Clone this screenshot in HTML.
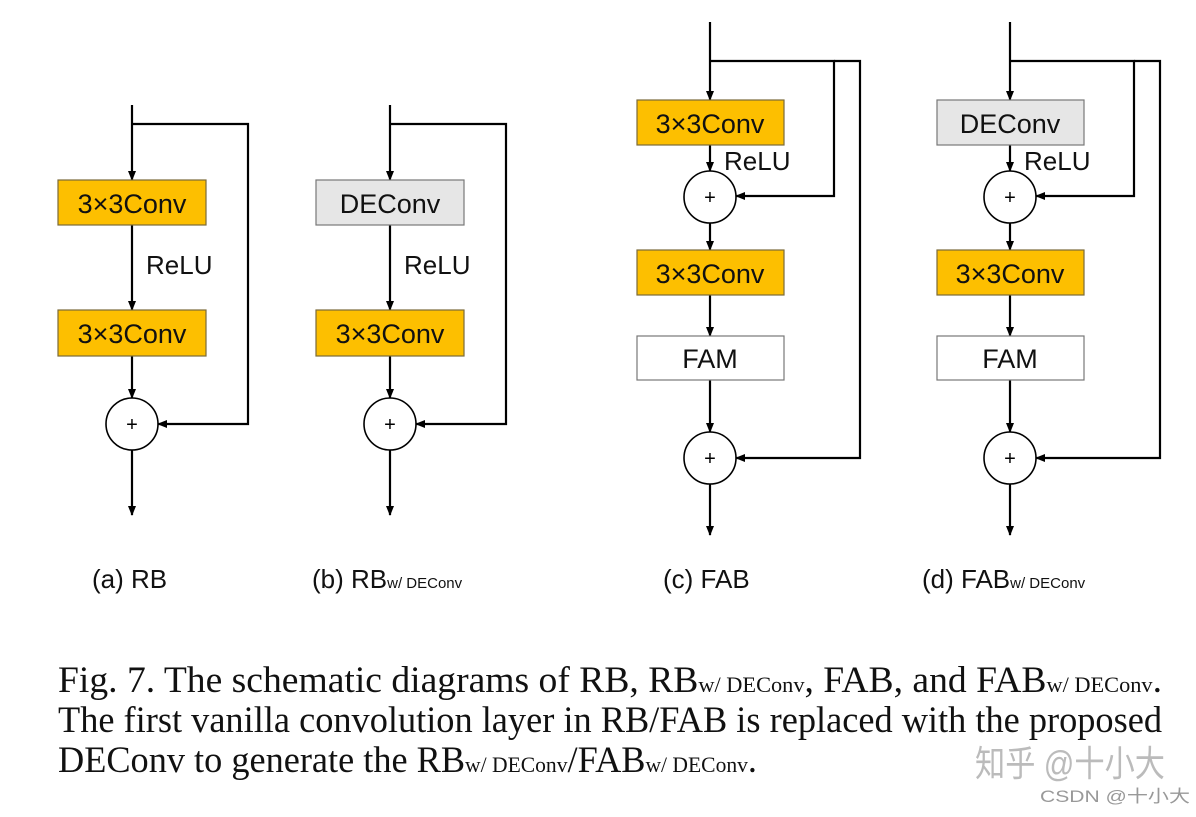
<!DOCTYPE html>
<html><head><meta charset="utf-8"><style>
body{margin:0;background:#fff;width:1196px;height:812px;overflow:hidden}
svg text{font-family:"Liberation Sans",sans-serif}
.cap{font-family:"Liberation Serif",serif;font-size:37px;fill:#111}
</style></head><body>
<svg width="1196" height="812" viewBox="0 0 1196 812" xmlns="http://www.w3.org/2000/svg">
<defs><marker id="a" viewBox="0 0 10 10" refX="9" refY="5" markerWidth="10" markerHeight="10" markerUnits="userSpaceOnUse" orient="auto"><path d="M0,1 L10,5 L0,9 z" fill="#000"/></marker></defs>
<g stroke="#000" stroke-width="2.2" fill="none">
<line x1="132" y1="105" x2="132" y2="180" marker-end="url(#a)"/>
<line x1="132" y1="225" x2="132" y2="310" marker-end="url(#a)"/>
<line x1="132" y1="356" x2="132" y2="398" marker-end="url(#a)"/>
<line x1="132" y1="450" x2="132" y2="515" marker-end="url(#a)"/>
<polyline points="132,124 248,124 248,424 158,424" marker-end="url(#a)"/>
<line x1="390" y1="105" x2="390" y2="180" marker-end="url(#a)"/>
<line x1="390" y1="225" x2="390" y2="310" marker-end="url(#a)"/>
<line x1="390" y1="356" x2="390" y2="398" marker-end="url(#a)"/>
<line x1="390" y1="450" x2="390" y2="515" marker-end="url(#a)"/>
<polyline points="390,124 506,124 506,424 416,424" marker-end="url(#a)"/>
<line x1="710" y1="22" x2="710" y2="100" marker-end="url(#a)"/>
<line x1="710" y1="145" x2="710" y2="171" marker-end="url(#a)"/>
<line x1="710" y1="223" x2="710" y2="250" marker-end="url(#a)"/>
<line x1="710" y1="295" x2="710" y2="336" marker-end="url(#a)"/>
<line x1="710" y1="380" x2="710" y2="432" marker-end="url(#a)"/>
<line x1="710" y1="484" x2="710" y2="535" marker-end="url(#a)"/>
<polyline points="710,61 834,61 834,196 736,196" marker-end="url(#a)"/>
<polyline points="834,61 860,61 860,458 736,458" marker-end="url(#a)"/>
<line x1="1010" y1="22" x2="1010" y2="100" marker-end="url(#a)"/>
<line x1="1010" y1="145" x2="1010" y2="171" marker-end="url(#a)"/>
<line x1="1010" y1="223" x2="1010" y2="250" marker-end="url(#a)"/>
<line x1="1010" y1="295" x2="1010" y2="336" marker-end="url(#a)"/>
<line x1="1010" y1="380" x2="1010" y2="432" marker-end="url(#a)"/>
<line x1="1010" y1="484" x2="1010" y2="535" marker-end="url(#a)"/>
<polyline points="1010,61 1134,61 1134,196 1036,196" marker-end="url(#a)"/>
<polyline points="1134,61 1160,61 1160,458 1036,458" marker-end="url(#a)"/>
</g>
<g stroke="#7a6a3a" stroke-width="1.2">
<rect x="58" y="180" width="148" height="45" fill="#fdbf00"/>
<rect x="58" y="310" width="148" height="46" fill="#fdbf00"/>
<rect x="316" y="180" width="148" height="45" fill="#e6e6e6" stroke="#777"/>
<rect x="316" y="310" width="148" height="46" fill="#fdbf00"/>
<rect x="637" y="100" width="147" height="45" fill="#fdbf00"/>
<rect x="637" y="250" width="147" height="45" fill="#fdbf00"/>
<rect x="637" y="336" width="147" height="44" fill="#fff" stroke="#777"/>
<rect x="937" y="100" width="147" height="45" fill="#e6e6e6" stroke="#777"/>
<rect x="937" y="250" width="147" height="45" fill="#fdbf00"/>
<rect x="937" y="336" width="147" height="44" fill="#fff" stroke="#777"/>
</g>
<g fill="#fff" stroke="#000" stroke-width="1.6">
<circle cx="132" cy="424" r="26"/><circle cx="390" cy="424" r="26"/>
<circle cx="710" cy="197" r="26"/><circle cx="710" cy="458" r="26"/>
<circle cx="1010" cy="197" r="26"/><circle cx="1010" cy="458" r="26"/>
</g>
<g font-size="20" text-anchor="middle" fill="#000">
<text x="132" y="431">+</text><text x="390" y="431">+</text>
<text x="710" y="204">+</text><text x="710" y="465">+</text>
<text x="1010" y="204">+</text><text x="1010" y="465">+</text>
</g>
<g font-size="27" text-anchor="middle" fill="#111">
<text x="132" y="213">3×3Conv</text><text x="132" y="343">3×3Conv</text>
<text x="390" y="213">DEConv</text><text x="390" y="343">3×3Conv</text>
<text x="710" y="133">3×3Conv</text><text x="710" y="283">3×3Conv</text><text x="710" y="368">FAM</text>
<text x="1010" y="133">DEConv</text><text x="1010" y="283">3×3Conv</text><text x="1010" y="368">FAM</text>
</g>
<g font-size="26" fill="#111">
<text x="146" y="274">ReLU</text><text x="404" y="274">ReLU</text>
<text x="724" y="170">ReLU</text><text x="1024" y="170">ReLU</text>
<text x="92" y="588">(a) RB</text>
<text x="312" y="588">(b) RB<tspan font-size="15">w/ DEConv</tspan></text>
<text x="663" y="588">(c) FAB</text>
<text x="922" y="588">(d) FAB<tspan font-size="15">w/ DEConv</tspan></text>
</g>
<text class="cap" x="58" y="692" textLength="1104" lengthAdjust="spacingAndGlyphs">Fig. 7.  The schematic diagrams of RB, RB<tspan font-size="22">w/ DEConv</tspan>, FAB, and FAB<tspan font-size="22">w/ DEConv</tspan>.</text>
<text class="cap" x="58" y="732" textLength="1104" lengthAdjust="spacingAndGlyphs">The first vanilla convolution layer in RB/FAB is replaced with the proposed</text>
<text class="cap" x="58" y="772" textLength="699" lengthAdjust="spacingAndGlyphs">DEConv to generate the RB<tspan font-size="22">w/ DEConv</tspan>/FAB<tspan font-size="22">w/ DEConv</tspan>.</text>
<text x="975" y="776" font-size="36" fill="#bbb" textLength="190" lengthAdjust="spacingAndGlyphs" style="font-family:'Liberation Sans','Noto Sans CJK SC',sans-serif">知乎 @十小大</text>
<text x="1040" y="802" font-size="17" fill="#999" textLength="150" lengthAdjust="spacingAndGlyphs" style="font-family:'Liberation Sans','Noto Sans CJK SC',sans-serif">CSDN @十小大</text>
</svg>
</body></html>
